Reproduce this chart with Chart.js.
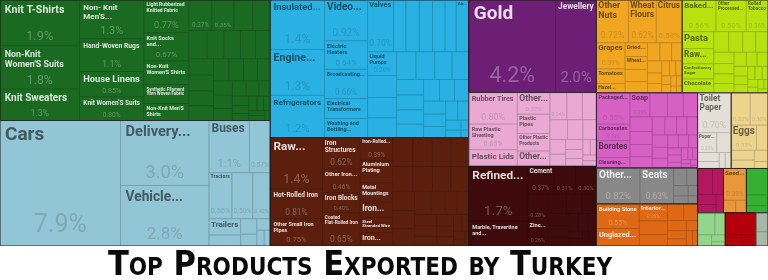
<!DOCTYPE html>
<html>
<head>
<meta charset="utf-8">
<script src="https://cdn.jsdelivr.net/npm/chart.js@4.4.1/dist/chart.umd.min.js"></script>
<style>
  body { margin: 0; background: #fff; }
  #wrap { width: 768px; height: 280px; position: relative; overflow: hidden; }
  #title {
    position: absolute; left: 0; top: 246px; width: 720px; height: 34px; line-height: 34px;
    text-align: center; white-space: nowrap; color: #0a0a0a;
    font-family: 'DejaVu Sans Condensed', 'DejaVu Sans', sans-serif; font-stretch: condensed;
    font-weight: bold; font-variant: small-caps; font-size: 34px;
  }
</style>
</head>
<body>
<div id="wrap">
  <canvas id="chart" width="768" height="246"></canvas>
  <div id="title">Top Products Exported by Turkey</div>
</div>
<script>
// Share of total exports (%). Labels are shown as in the picture.
// Values after the last label are unnamed small products.
const textilesLabels = ['Knit T-Shirts', "Non-Knit Women'S Suits", 'Knit Sweaters', "Non- Knit Men'S...", 'Hand-Woven Rugs', 'House Linens', "Knit Women'S Suits", 'Light Rubberized Knitted Fabric', 'Knit Socks and...', "Non-Knit Women'S Shirts", 'Synthetic Filament Yarn Woven Fabric', "Non-Knit Men'S Shirts", 'Non-Retail...', 'Dense Pure Woven Cotton'];
const textilesValues = [1.9, 1.8, 1.3, 1.3, 1.1, 0.85, 0.8, 0.77, 0.67, 0.55, 0.45, 0.4, 0.37, 0.35, 0.3, 0.28, 0.27, 0.25, 0.24, 0.22, 0.22, 0.21, 0.2, 0.19, 0.19, 0.18, 0.17, 0.16, 0.15, 0.14, 0.13, 0.12, 0.11, 0.1, 0.09, 0.08, 0.07, 0.06, 0.06, 0.05, 0.05, 0.04, 0.04, 0.03];

const transportLabels = ['Cars', 'Delivery...', 'Vehicle...', 'Buses', '', 'Tractors', '', '', 'Trailers'];
const transportValues = [7.9, 3.0, 2.8, 1.1, 0.57, 0.55, 0.5, 0.42, 0.27, 0.18, 0.13, 0.1, 0.08, 0.06, 0.05];

const machinesLabels = ['Insulated...', 'Engine...', 'Refrigerators', 'Video...', 'Electric Heaters', 'Broadcasting...', 'Electrical Transformers', 'Washing and Bottling...', 'Valves', 'Centrifuges', 'Machinery Having...', 'Electrical Control...', 'Excavation Machinery', 'Taps', 'Air...', 'Liquid Pumps'];
const machinesValues = [1.4, 1.3, 1.2, 0.92, 0.64, 0.66, 0.45, 0.43, 0.7, 0.34, 0.36, 0.36, 0.34, 0.3, 0.34, 0.36, 0.33, 0.31, 0.3, 0.28, 0.27, 0.25, 0.24, 0.22, 0.21, 0.2, 0.19, 0.18, 0.17, 0.16, 0.15, 0.14, 0.13, 0.12, 0.11, 0.08, 0.06, 0.04, 0.03];

const metalsLabels = ['Raw...', 'Hot-Rolled Iron', 'Other Small Iron Pipes', 'Iron Structures', 'Other Iron...', 'Iron Blocks', 'Coated Flat-Rolled Iron', 'Iron-Rolled...', 'Aluminium Plating', 'Metal Mountings', 'Iron...', 'Steel Stranded Wire', 'Iron...'];
const metalsValues = [1.4, 0.81, 0.75, 0.62, 0.46, 0.4, 0.65, 0.39, 0.39, 0.33, 0.26, 0.27, 0.22, 0.3, 0.29, 0.28, 0.27, 0.26, 0.25, 0.24, 0.23, 0.22, 0.21, 0.2, 0.19, 0.17, 0.15, 0.14, 0.13, 0.12, 0.11, 0.1, 0.09, 0.08, 0.07, 0.06, 0.05, 0.04, 0.03];

const preciousLabels = ['Gold', 'Jewellery'];
const preciousValues = [4.2, 1.97];

const plasticsLabels = ['Rubber Tires', 'Raw Plastic Sheeting', 'Plastic Lids', 'Other...', 'Plastic Pipes', 'Other Plastic Products', 'Other...', 'Plastic...'];
const plasticsValues = [0.8, 0.65, 0.42, 0.37, 0.33, 0.3, 0.26, 0.24, 0.22, 0.2, 0.18, 0.16, 0.14, 0.12, 0.1, 0.09, 0.08, 0.07, 0.06, 0.05, 0.04, 0.04];

const mineralLabels = ['Refined...', 'Marble, Travertine and...', 'Cement', '', '', 'Chromium Ore', 'Zinc...'];
const mineralValues = [1.7, 0.76, 0.37, 0.31, 0.3, 0.28, 0.26, 0.2, 0.17, 0.15, 0.13, 0.12, 0.1, 0.09, 0.08, 0.07, 0.06, 0.05, 0.04, 0.04, 0.03];

const vegetableLabels = ['Other Nuts', 'Wheat Flours', 'Citrus', 'Grapes', 'Tomatoes', 'Hazel...', 'Dried...', 'Wheat...'];
const vegetableValues = [0.72, 0.62, 0.58, 0.39, 0.22, 0.14, 0.16, 0.15, 0.14, 0.13, 0.12, 0.11, 0.1, 0.09, 0.08, 0.07, 0.06, 0.05, 0.05, 0.04, 0.04, 0.03, 0.03, 0.02, 0.02];

const foodLabels = ['Baked...', 'Other Processed...', 'Rolled Tobacco', 'Pasta', 'Raw...', 'Confectionery Sugar', 'Chocolate'];
const foodValues = [0.56, 0.5, 0.36, 0.28, 0.25, 0.25, 0.23, 0.16, 0.15, 0.14, 0.13, 0.12, 0.11, 0.1, 0.1, 0.09, 0.08, 0.08, 0.07, 0.06, 0.06, 0.05, 0.05, 0.04, 0.04, 0.03, 0.03, 0.02, 0.02];

const chemicalLabels = ['Packaged...', 'Carbonates', 'Borates', 'Cleaning...', 'Soap'];
const chemicalValues = [0.55, 0.29, 0.3, 0.18, 0.25, 0.22, 0.2, 0.18, 0.17, 0.15, 0.14, 0.13, 0.12, 0.11, 0.1, 0.1, 0.1, 0.09, 0.08, 0.07, 0.07, 0.06, 0.05, 0.05, 0.04, 0.04, 0.03, 0.03, 0.02, 0.02, 0.02, 0.01];

const miscLabels = ['Other...', 'Seats'];
const miscValues = [0.82, 0.63, 0.12, 0.1, 0.08, 0.06, 0.05, 0.04];

const stoneLabels = ['Building Stone', 'Unglazed...', 'Interior...'];
const stoneValues = [0.55, 0.39, 0.25, 0.2, 0.17, 0.14, 0.12, 0.1, 0.08, 0.07, 0.06, 0.05, 0.04];

const paperLabels = ['Toilet Paper', 'Paper...'];
const paperValues = [0.7, 0.2, 0.15, 0.1, 0.08, 0.05, 0.05];

const animalLabels = ['', '', 'Eggs'];
const animalValues = [0.32, 0.3, 0.33, 0.15, 0.12, 0.1, 0.08, 0.05];

const footwearValues = [0.2, 0.15, 0.1, 0.08, 0.07];
const byproductLabels = ['Seed...'];
const byproductValues = [0.38, 0.08, 0.07];
const instrumentsValues = [0.3, 0.12, 0.08];
const hidesValues = [0.2, 0.12, 0.08, 0.05, 0.03];
const weaponsValues = [0.35, 0.1, 0.08];
const woodValues = [0.12, 0.09];

const sectorNames = ['Textiles', 'Transportation', 'Machines', 'Metals', 'Precious Metals', 'Plastics and Rubbers', 'Mineral Products', 'Vegetable Products', 'Foodstuffs', 'Chemical Products', 'Miscellaneous', 'Stone and Glass', 'Paper Goods', 'Animal Products', 'Footwear and Headwear', 'Animal and Vegetable Bi-Products', 'Instruments', 'Animal Hides', 'Weapons', 'Wood Products'];
const sectorLabels = [textilesLabels, transportLabels, machinesLabels, metalsLabels, preciousLabels, plasticsLabels, mineralLabels, vegetableLabels, foodLabels, chemicalLabels, miscLabels, stoneLabels, paperLabels, animalLabels, [], byproductLabels, [], [], [], []];
const sectorValues = [textilesValues, transportValues, machinesValues, metalsValues, preciousValues, plasticsValues, mineralValues, vegetableValues, foodValues, chemicalValues, miscValues, stoneValues, paperValues, animalValues, footwearValues, byproductValues, instrumentsValues, hidesValues, weaponsValues, woodValues];

// styles
const sectorColors = ['#1b6a22', '#92c5d5', '#29b1e3', '#5c1f0d', '#6c1f74', '#e9a9d2', '#3e0a0b', '#f0a620', '#b7e20f', '#d760c5', '#888888', '#de6814', '#e3ded6', '#ecd48e', '#b3175e', '#e8983a', '#35b030', '#93d68b', '#b4000c', '#a8b8a8'];
// how many items go in each of the first strips (the rest is squarified)
const topStrips = [2, 2, 3, 2, 3, 2, 3];
const sectorStrips = [[3, 4, 5], [1, 2, 2, 3], [3, 5, 7], [3, 4, 6], [1], [3], [2, 3, 2], [3, 3], [3, 4], [4], [1, 1], [2], [], [], [], [], [], [], [], []];

const PHI = (1 + Math.sqrt(5)) / 2;
const LABEL_FONT = "'Liberation Sans Narrow', Roboto, sans-serif";

function sum(a) { return a.reduce((s, v) => s + v, 0); }

// strip / squarify layout in a box whose x units match y units
function layoutStrips(vals, x0, y0, x1, y1, counts) {
  const n = vals.length, out = [];
  let total = sum(vals), i0 = 0, ci = 0;
  while (i0 < n) {
    const dx = x1 - x0, dy = y1 - y0;
    let i1;
    if (ci < counts.length) {
      i1 = Math.min(n, i0 + counts[ci++]);
    } else {
      let s = vals[i0], mn = s, mx = s;
      const alpha = Math.max(dy / dx, dx / dy) / (total * PHI);
      let beta = s * s * alpha;
      let best = Math.max(mx / beta, beta / mn);
      for (i1 = i0 + 1; i1 < n; i1++) {
        const v = vals[i1], s2 = s + v;
        const mn2 = Math.min(mn, v), mx2 = Math.max(mx, v);
        beta = s2 * s2 * alpha;
        const r = Math.max(mx2 / beta, beta / mn2);
        if (r > best) break;
        s = s2; mn = mn2; mx = mx2; best = r;
      }
    }
    const s = sum(vals.slice(i0, i1));
    const last = i1 >= n;
    if (dx < dy) {
      const yb = last ? y1 : y0 + dy * s / total;
      let xx = x0;
      for (let k = i0; k < i1; k++) {
        const w = dx * vals[k] / s;
        out[k] = { x0: xx, y0: y0, x1: xx + w, y1: yb };
        xx += w;
      }
      y0 = yb;
    } else {
      const xb = last ? x1 : x0 + dx * s / total;
      let yy = y0;
      for (let k = i0; k < i1; k++) {
        const h = dy * vals[k] / s;
        out[k] = { x0: x0, y0: yy, x1: xb, y1: yy + h };
        yy += h;
      }
      x0 = xb;
    }
    total -= s;
    i0 = i1;
  }
  return out;
}

function hexRgb(h) { const n = parseInt(h.slice(1), 16); return [n >> 16 & 255, n >> 8 & 255, n & 255]; }
function mix(c, t, k) { return 'rgb(' + c.map((v, i) => Math.round(v + (t[i] - v) * k)).join(',') + ')'; }

function wrap(ctx, text, maxW) {
  const words = text.split(' '), lines = [];
  let cur = '';
  for (const wd of words) {
    const test = cur ? cur + ' ' + wd : wd;
    if (!cur || ctx.measureText(test).width <= maxW) cur = test;
    else { lines.push(cur); cur = wd; }
  }
  lines.push(cur);
  return lines;
}

function fitName(ctx, text, aw, ah, h) {
  const start = Math.min(19, Math.max(h * 0.21 + 1, Math.min(h * 0.55, 10)));
  for (let size = start; size >= 3.8; size -= 0.25) {
    ctx.font = 'bold ' + size + 'px ' + LABEL_FONT;
    const lines = wrap(ctx, text, aw);
    const widest = Math.max(...lines.map(l => ctx.measureText(l).width));
    if (widest <= aw && lines.length * size * 1.08 <= ah) return { size, lines };
  }
  return null;
}

function drawLabel(ctx, label, value, b, rgb) {
  const w = b.r - b.l, h = b.b - b.t;
  const light = (0.299 * rgb[0] + 0.587 * rgb[1] + 0.114 * rgb[2]) / 255 > 0.545;
  const nameColor = light ? mix(rgb, [0, 0, 0], 0.55) : mix(rgb, [255, 255, 255], 0.85);
  const pctColor = light ? mix(rgb, [0, 0, 0], 0.14) : mix(rgb, [255, 255, 255], 0.3);
  const pad = Math.max(1.5, Math.min(5, w * 0.06));
  let bottom = b.t + pad;
  ctx.save();
  ctx.beginPath();
  ctx.rect(b.l, b.t, w, h);
  ctx.clip();
  if (label) {
    const ah = Math.min(h - 2 * pad, Math.max(h * 0.45, 12));
    const fit = fitName(ctx, label, w - 2 * pad, ah, h);
    if (fit) {
      ctx.font = 'bold ' + fit.size + 'px ' + LABEL_FONT;
      ctx.fillStyle = nameColor;
      ctx.textAlign = 'left';
      ctx.textBaseline = 'top';
      fit.lines.forEach((ln, i) => ctx.fillText(ln, b.l + pad, b.t + pad + i * fit.size * 1.08));
      bottom = b.t + pad + fit.lines.length * fit.size * 1.08;
    }
  }
  const txt = (value >= 1 ? value.toFixed(1) : value.toFixed(2)) + '%';
  let size = Math.min(25, Math.sqrt(w * h) * 0.24, h * 0.28);
  ctx.font = size + 'px ' + LABEL_FONT;
  const tw = ctx.measureText(txt).width;
  if (tw > w - 2 * pad) size *= (w - 2 * pad) / tw;
  const base = b.b - (h * 0.1 + 1);
  if (size >= 4.5 && base - size * 0.75 >= bottom + 1) {
    ctx.font = size + 'px ' + LABEL_FONT;
    ctx.fillStyle = pctColor;
    ctx.textAlign = 'center';
    ctx.textBaseline = 'alphabetic';
    ctx.fillText(txt, b.l + w / 2, base);
  }
  ctx.restore();
}

const treemapPlugin = {
  id: 'treemap',
  afterDatasetsDraw(chart) {
    const { ctx, chartArea, scales } = chart;
    const A = chartArea.width / chartArea.height;
    const toPx = r => ({
      l: scales.x.getPixelForValue(r.x0 / A), r: scales.x.getPixelForValue(r.x1 / A),
      t: scales.y.getPixelForValue(r.y0), b: scales.y.getPixelForValue(r.y1)
    });
    const groups = layoutStrips(sectorValues.map(sum), 0, 0, A, 1, topStrips);
    groups.forEach((g, gi) => {
      const rgb = hexRgb(sectorColors[gi]);
      const cells = layoutStrips(sectorValues[gi], g.x0, g.y0, g.x1, g.y1, sectorStrips[gi]);
      ctx.save();
      ctx.fillStyle = sectorColors[gi];
      ctx.strokeStyle = mix(rgb, [0, 0, 0], 0.2);
      ctx.lineWidth = 0.8;
      cells.forEach(c => {
        const p = toPx(c);
        ctx.fillRect(p.l, p.t, p.r - p.l, p.b - p.t);
        ctx.strokeRect(p.l, p.t, p.r - p.l, p.b - p.t);
      });
      cells.forEach((c, ci) => {
        const label = sectorLabels[gi][ci];
        if (label !== undefined) drawLabel(ctx, label, sectorValues[gi][ci], toPx(c), rgb);
      });
      const gp = toPx(g);
      ctx.strokeStyle = 'rgba(25,25,25,0.85)';
      ctx.lineWidth = 1;
      ctx.strokeRect(gp.l, gp.t, gp.r - gp.l, gp.b - gp.t);
      ctx.restore();
    });
  }
};

new Chart(document.getElementById('chart'), {
  type: 'scatter',
  data: { datasets: [{ label: 'Turkey exports', data: [] }] },
  options: {
    responsive: false,
    animation: false,
    devicePixelRatio: 1,
    layout: { padding: 0 },
    plugins: { legend: { display: false }, tooltip: { enabled: false }, title: { display: false } },
    scales: {
      x: { type: 'linear', min: 0, max: 1, display: false },
      y: { type: 'linear', min: 0, max: 1, reverse: true, display: false }
    }
  },
  plugins: [treemapPlugin]
});
</script>
</body>
</html>
